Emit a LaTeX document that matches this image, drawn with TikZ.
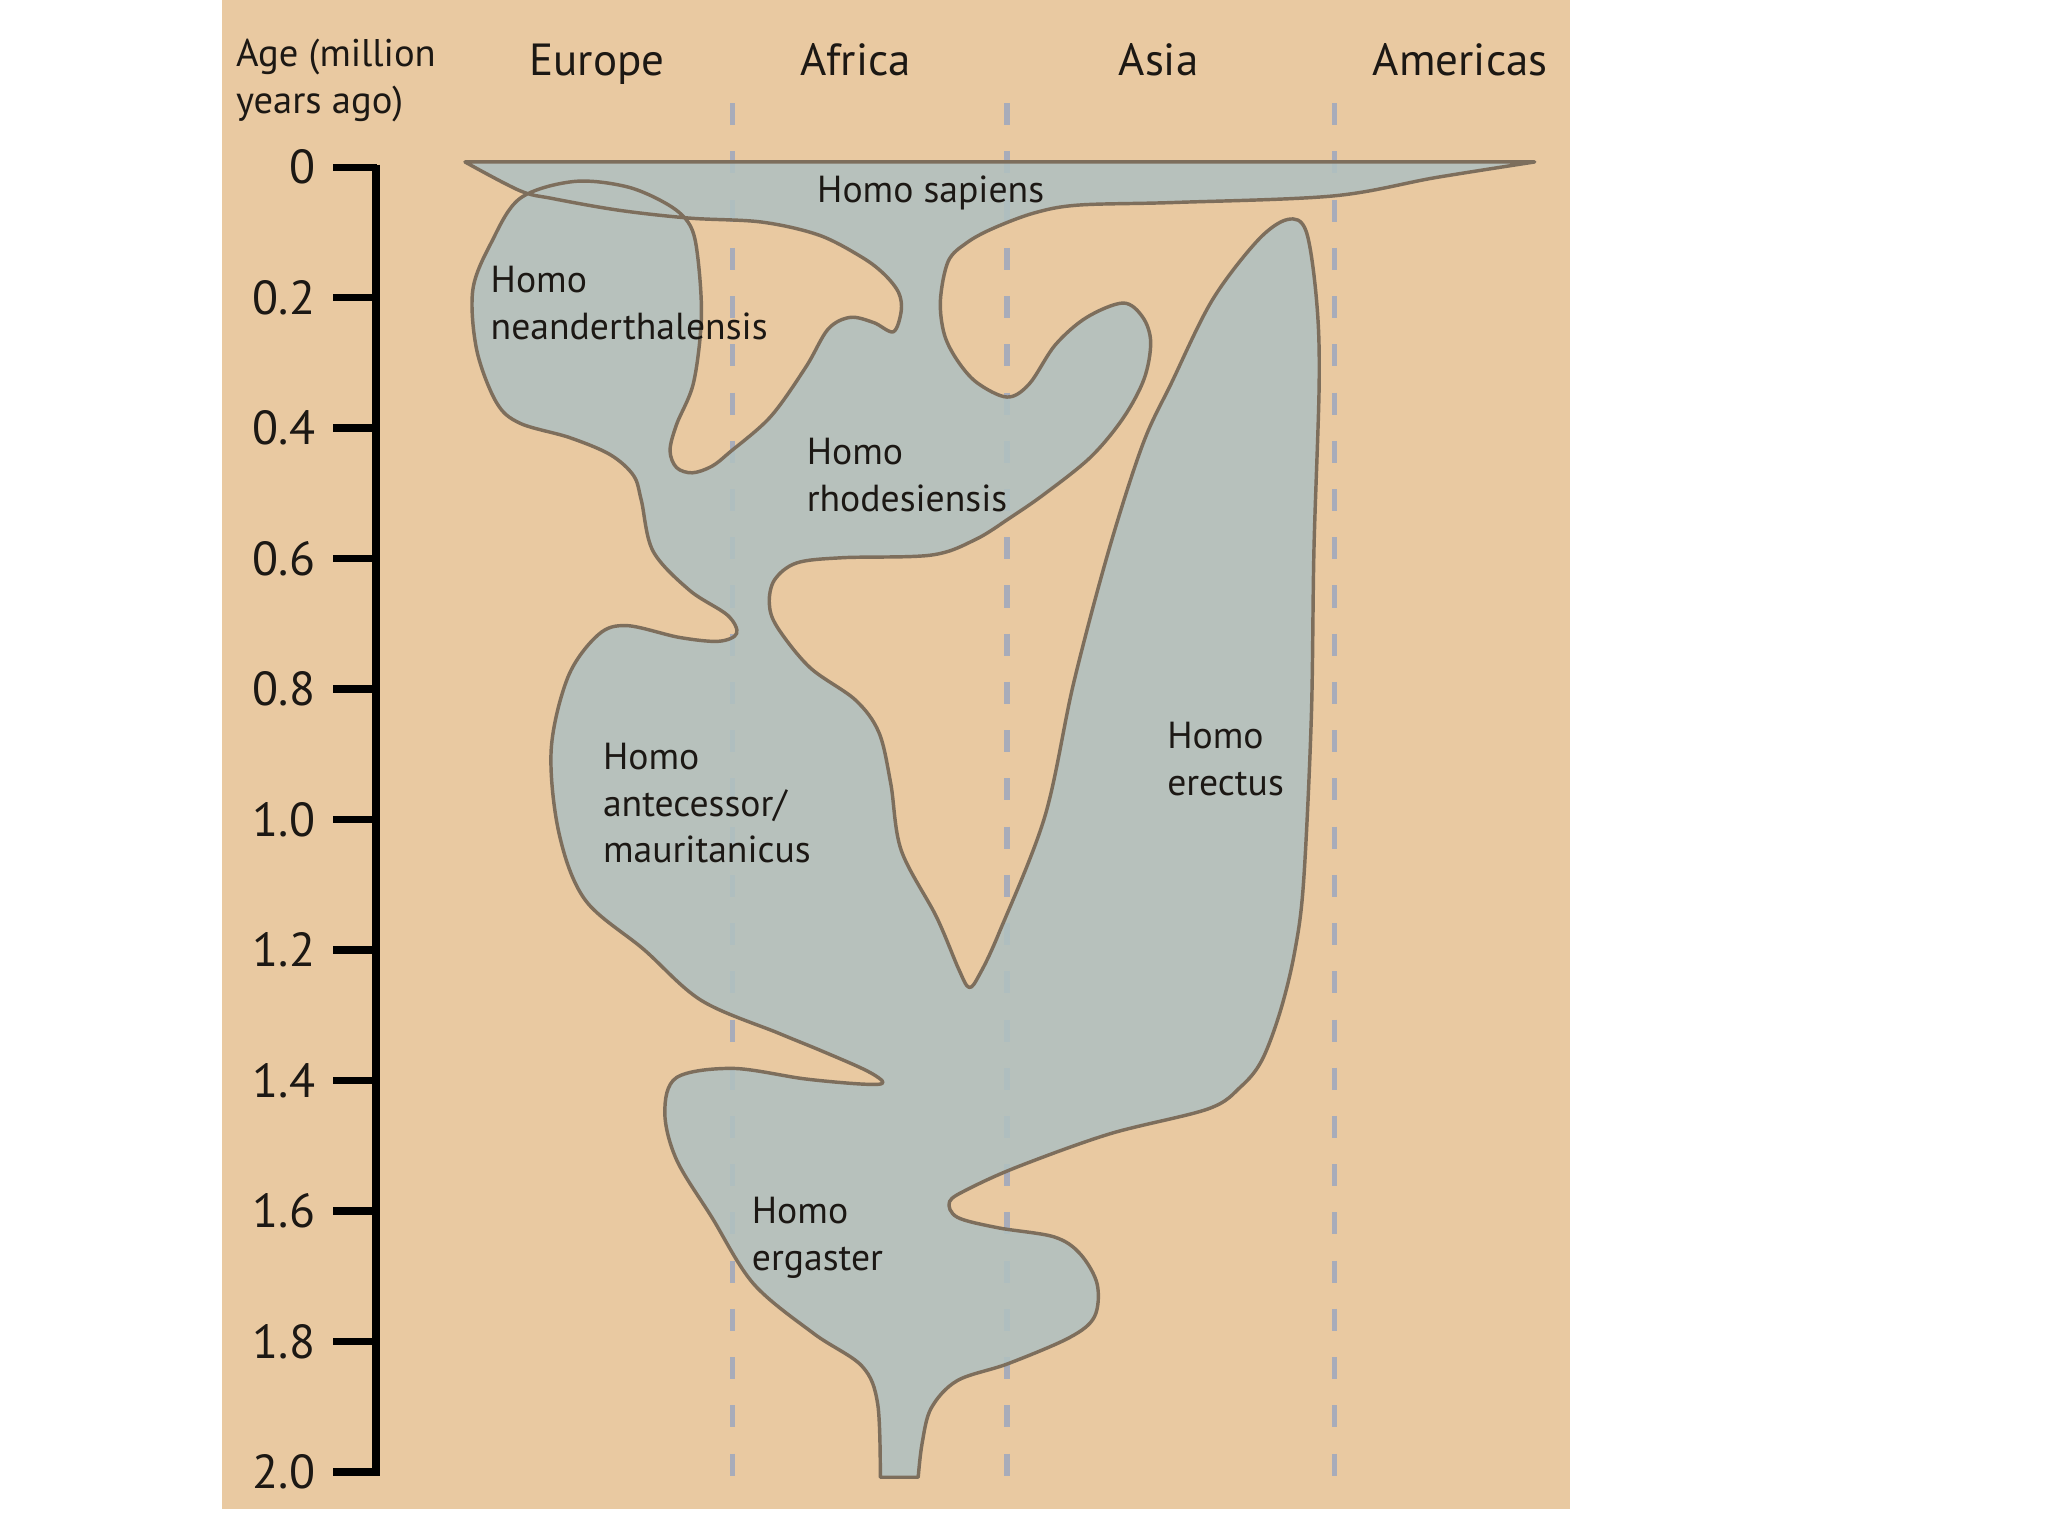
\documentclass[tikz,border=0pt]{standalone}
\usepackage{fontspec}
\setmainfont{PT Sans}
\definecolor{tanbg}{RGB}{233,201,161}
\definecolor{shapefill}{RGB}{177,193,192}
\definecolor{outline}{RGB}{125,110,92}
\definecolor{dashcol}{RGB}{168,172,186}
\definecolor{ink}{RGB}{28,24,20}
\tikzset{
  axisline/.style={line width=1.6pt, black},
  region/.style={dashed, dash pattern=on 4.8pt off 5.7pt, line width=1.1pt, dashcol},
  species/.style={fill=shapefill, fill opacity=0.88, draw=outline, line width=0.75pt, line join=round},
  lab/.style={inner sep=0pt, anchor=north west, align=left, text=ink, font=\fontsize{8.2}{10.2}\selectfont},
  head/.style={inner sep=0pt, anchor=base, text=ink, font=\fontsize{9.8}{12}\selectfont},
  tick/.style={inner sep=0pt, anchor=east, text=ink, font=\fontsize{10.4}{12}\selectfont}
}
\begin{document}
\begin{tikzpicture}[x=0.01cm,y=-0.01cm]
\useasboundingbox (0,0) rectangle (1568,1176);
\fill[white] (0,0) rectangle (1568,1176);
\fill[tanbg] (170,0) rectangle (1202,1155);

% region dividers
\coordinate (d1t) at (561,79); \coordinate (d1b) at (561,1146);
\coordinate (d2t) at (771,79); \coordinate (d2b) at (771,1146);
\coordinate (d3t) at (1022,79); \coordinate (d3b) at (1022,1146);
\draw[region] (d1t) -- (d1b);
\draw[region] (d2t) -- (d2b);
\draw[region] (d3t) -- (d3b);

% headers
\node[lab, font=\fontsize{8.4}{10.2}\selectfont] (agehead) at (180,29) {Age (million\\years ago)};
\node[head] (europe) at (457,58) {Europe};
\node[head] (africa) at (655,58) {Africa};
\node[head] (asia) at (887,58) {Asia};
\node[head] (americas) at (1118,58) {Americas};

% axis
\coordinate (axtop) at (288,126);
\coordinate (axbot) at (288,1130);
\draw[axisline] (axtop) -- (axbot);
\foreach \i/\l in {0/0,1/0.2,2/0.4,3/0.6,4/0.8,5/1.0,6/1.2,7/1.4,8/1.6,9/1.8,10/2.0}{
  \coordinate (tk\i) at (289,{128+\i*99.9});
  \coordinate (tl\i) at (255,{128+\i*99.9});
  \draw[axisline] (tl\i) -- (tk\i);
  \node[tick] (age\i) at (242,{128+\i*99.9}) {\l};
}

% the species tree
\path[species]
  (356,124) -- (1175,124)
  -- plot[smooth, tension=0.55] coordinates {
    (1175,124) (1099,136) (1021,150) (900,155) (826,157) (792,163) (760,175)
    (740,186) (726,200) (720,230) (723,256) (733,276) (748,293) (771,304)
    (788,294) (808,264) (832,243) (860,232) (875,243) (881,262) (876,290)
    (860,320) (835,350) (800,378) (774,396) (747,413) (713,425) (645,427)
    (610,431) (593,444) (589,462) (595,480) (620,511) (655,536) (673,561)
    (682,600) (690,651) (717,702) (734,742) (742,756) (750,746) (765,714)
    (800,625) (822,523) (849,421) (875,340) (897,293) (928,230) (963,184)
    (986,168) (1000,177) (1008,230) (1010,293) (1006,421) (1004,549)
    (998,676) (991,730) (980,775) (966,812) (950,832) (925,849) (850,868)
    (780,893) (742,910) (727,920) (733,932) (764,940) (807,947) (827,960)
    (840,983) (838,1008) (819,1024) (772,1044) (733,1057) (713,1078)
    (706,1105) (703,1131) }
  -- (674,1131)
  -- plot[smooth, tension=0.55] coordinates {
    (674,1131) (672,1075) (660,1046) (623,1021) (577,983) (545,932)
    (518,888) (509,852) (518,825) (561,818) (616,826) (660,830) (676,829)
    (664,820) (630,805) (596,791) (537,766) (493,727) (448,689) (428,638)
    (422,574) (435,518) (458,486) (480,479) (520,488) (550,491) (564,485)
    (557,471) (528,452) (500,422) (491,383) (485,364) (467,348) (436,335)
    (398,324) (380,308) (365,268) (362,222) (376,186) (398,152) (439,139)
    (480,143) (512,157) (528,172) (534,195) (537,243) (531,293) (518,325)
    (513,345) (518,358) (530,362) (545,357) (559,346) (590,319) (617,281)
    (634,252) (651,243) (669,247) (684,254) (690,238) (688,224) (677,210)
    (660,197) (627,180) (583,170) (528,167) (474,161) (423,152) (398,146)
    (356,124) }
  -- cycle;

% species labels
\node[lab] (sapiens) at (625,134) {Homo sapiens};
\node[lab] (neander) at (375,203) {Homo\\neanderthalensis};
\node[lab] (rhodes) at (617,335) {Homo\\rhodesiensis};
\node[lab] (antec) at (461,568) {Homo\\antecessor/\\mauritanicus};
\node[lab] (erectus) at (893,552) {Homo\\erectus};
\node[lab] (ergaster) at (575,916) {Homo\\ergaster};
\end{tikzpicture}
\end{document}
